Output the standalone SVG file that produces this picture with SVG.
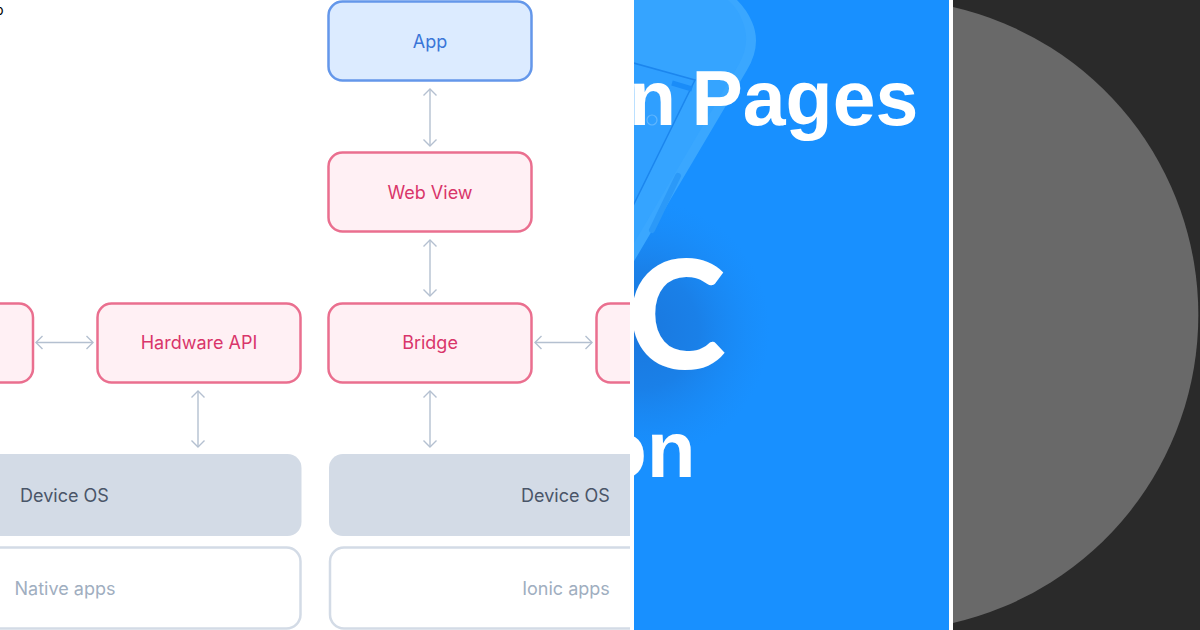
<svg xmlns="http://www.w3.org/2000/svg" width="1200" height="630" viewBox="0 0 1200 630">
<defs>
<clipPath id="leftClip"><rect x="0" y="0" width="630" height="630"/></clipPath>
<clipPath id="blueClip"><rect x="634" y="0" width="315" height="630"/></clipPath>
<radialGradient id="glow" gradientUnits="userSpaceOnUse" cx="640" cy="330" r="130">
<stop offset="0" stop-color="#1a78de"/><stop offset="0.45" stop-color="#1a80e8"/><stop offset="1" stop-color="#1a8af5" stop-opacity="0"/>
</radialGradient>
<marker id="ah" viewBox="-8 -8 16 16" markerWidth="16" markerHeight="16" markerUnits="userSpaceOnUse" orient="auto-start-reverse" refX="0" refY="0">
<path d="M-6.500 -6.500L0 0L-6.500 6.500" fill="none" stroke="#b4c0d0" stroke-width="1.400"/>
</marker>
<style>
.lbl{font-family:"Inter","Liberation Sans",sans-serif;font-size:18px;text-anchor:middle}
.pink rect{fill:#fff0f4;stroke:#ea6f8f;stroke-width:2.5}
.pink text{fill:#d9356a}
.os rect{fill:#d3dbe6}
.os text{fill:#4a5568}
.apps rect{fill:#fff;stroke:#d3dbe6;stroke-width:2.5}
.apps text{fill:#a0aec0}
.title{font-family:"Liberation Sans",Arial,sans-serif;font-weight:700;fill:#fff}
.conn{stroke:#b4c0d0;stroke-width:1.4;fill:none;marker-start:url(#ah);marker-end:url(#ah)}
</style>
</defs>
<rect width="1200" height="630" fill="#fff"/>
<g clip-path="url(#leftClip)">
<text x="-5" y="15" font-family="Inter,'Liberation Sans',sans-serif" font-size="14" fill="#000">p</text>
<g id="connectors">
<line class="conn" x1="430" y1="89" x2="430" y2="146"/>
<line class="conn" x1="430" y1="240" x2="430" y2="296"/>
<line class="conn" x1="430" y1="391" x2="430" y2="447"/>
<line class="conn" x1="198" y1="391" x2="198" y2="447"/>
<line class="conn" x1="36" y1="342.500" x2="93" y2="342.500"/>
<line class="conn" x1="535" y1="342.500" x2="592" y2="342.500"/>
</g>
<g id="node-app"><rect x="328.500" y="1.500" width="203" height="79" rx="14" fill="#dcebff" stroke="#6497ea" stroke-width="2.500"/><text class="lbl" x="430" y="48" fill="#3a76d8">App</text></g>
<g id="node-webview" class="pink"><rect x="328.500" y="152.500" width="203" height="79" rx="14"/><text class="lbl" x="430" y="199">Web View</text></g>
<g id="node-bridge" class="pink"><rect x="328.500" y="303.500" width="203" height="79" rx="14"/><text class="lbl" x="430" y="349">Bridge</text></g>
<g id="node-hardware" class="pink"><rect x="97.500" y="303.500" width="203" height="79" rx="14"/><text class="lbl" x="199" y="349">Hardware API</text></g>
<g id="node-left-partial" class="pink"><rect x="-170" y="303.500" width="203" height="79" rx="14"/></g>
<g id="node-right-partial" class="pink"><rect x="596.500" y="303.500" width="203" height="79" rx="14"/></g>
<g id="node-os-native" class="os"><rect x="-200" y="454" width="501.500" height="82" rx="14"/><text class="lbl" x="64.500" y="502">Device OS</text></g>
<g id="node-os-ionic" class="os"><rect x="329" y="454" width="501" height="82" rx="14"/><text class="lbl" x="565.500" y="502">Device OS</text></g>
<g id="node-native-apps" class="apps"><rect x="-200" y="547.500" width="500.500" height="81" rx="14"/><text class="lbl" x="65" y="595">Native apps</text></g>
<g id="node-ionic-apps" class="apps"><rect x="330" y="547.500" width="500" height="81" rx="14"/><text class="lbl" x="566" y="595">Ionic apps</text></g>
</g>
<g clip-path="url(#blueClip)">
<rect x="634" y="0" width="315" height="630" fill="#1890ff"/>
<rect x="634" y="200" width="135" height="260" fill="url(#glow)"/>
<path d="M630 268L747 70Q762 45 752 22Q747 10 737 0L630 0Z" fill="#3aa7ff"/>
<path d="M630 250L738 66Q752 42 742 20Q738 9 728 0L630 0Z" fill="#35a4ff"/>
<path d="M630 62L695 80L630 212" fill="#2f9fff" stroke="#1c86ee" stroke-width="1.500"/>
<path d="M672 83L692 89" stroke="#1a8cf8" stroke-width="5"/>
<path d="M678 176L652 230" stroke="#2b99f8" stroke-width="6" stroke-linecap="round"/>
<circle cx="652" cy="120" r="5" fill="none" stroke="#5fb6ff" stroke-width="1.200"/>
<text class="title" x="629" y="125" font-size="77" word-spacing="-6">n Pages</text>
<text x="627" y="369" font-family="Lato,sans-serif" font-size="150" font-weight="900" fill="#fff">C</text>
<text class="title" x="598" y="477" font-size="80">on</text>
</g>
<rect x="953" y="0" width="247" height="630" fill="#2a2a2a"/>
<path d="M953 7A316 316 0 0 1 953 623Z" fill="#696969"/>
</svg>
